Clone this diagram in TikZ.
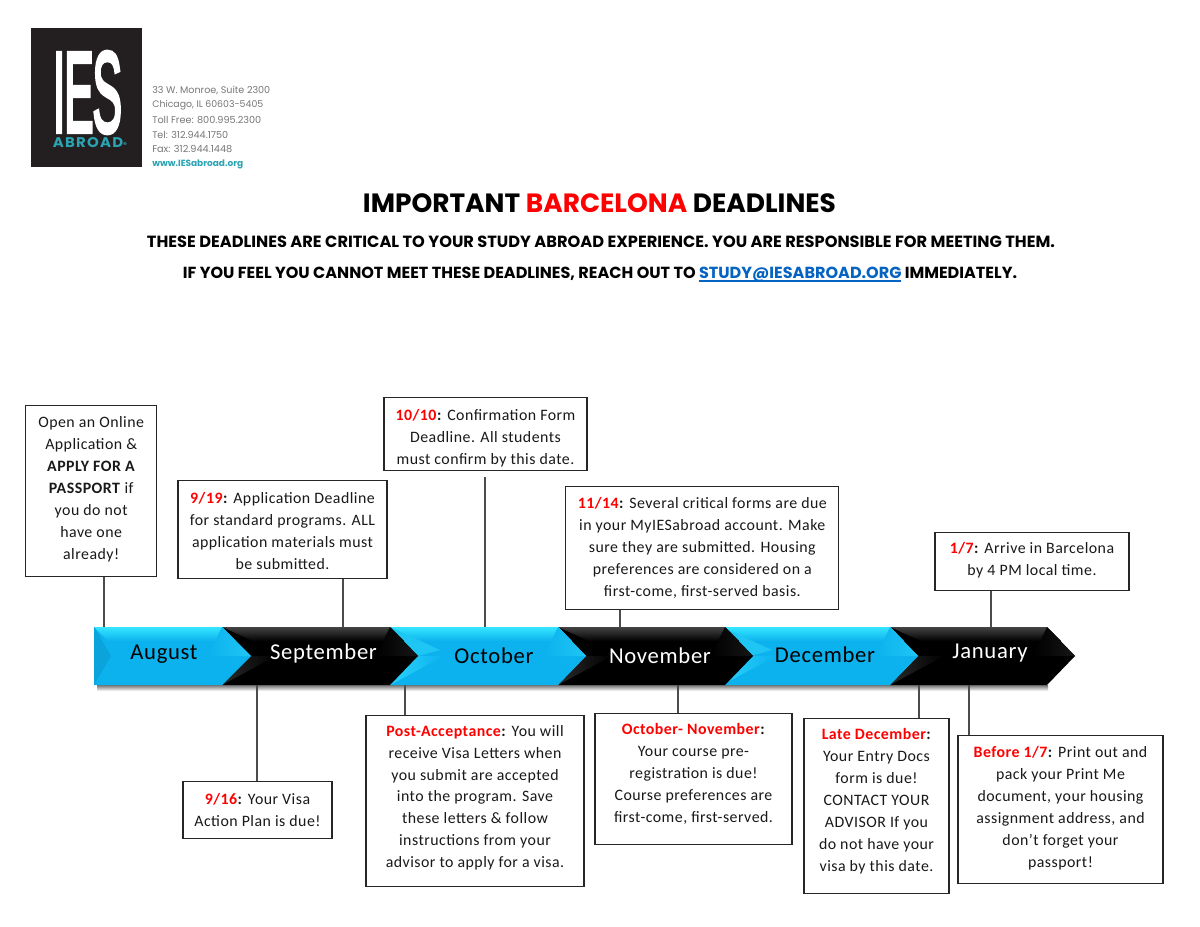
\documentclass[tikz,border=0pt]{standalone}
\usepackage{graphicx}
\usepackage{fontspec}
\setmainfont{Carlito}
\newfontfamily\boxfont[LetterSpace=3,WordSpace=0.9]{Carlito}
\newfontfamily\monthfont[LetterSpace=3]{Carlito}
\newfontfamily\headfont{Poppins}
\newfontfamily\logofont[FakeBold=4,LetterSpace=-3]{Liberation Sans}
\newfontfamily\abroadfont[LetterSpace=8]{Poppins}
\newfontfamily\addrfont{Poppins}
\usetikzlibrary{calc}
\newdimen\pxu \pxu=.75pt
\newsavebox{\ulbox}
\definecolor{cyanbase}{HTML}{0CB2EE}
\definecolor{cyanlight}{HTML}{35E6FF}
\definecolor{cyanupper}{HTML}{1FC6F4}
\definecolor{cyanlower}{HTML}{2AD2FB}
\definecolor{cyanedge}{HTML}{0BA3DC}
\definecolor{blacktop}{HTML}{444444}
\definecolor{blackmid}{HTML}{161616}
\definecolor{blacklower}{HTML}{2A2A2A}
\definecolor{linkblue}{HTML}{0563C1}
\definecolor{teal}{HTML}{2AA3B2}
\definecolor{logoblack}{HTML}{231F20}
\definecolor{addr}{HTML}{777777}
\definecolor{alarm}{HTML}{FF0000}
\newcommand{\dl}[1]{\textcolor{alarm}{\textbf{#1}}\textbf{:}}
\newcommand{\linkul}[1]{\sbox{\ulbox}{#1}\rlap{\smash{\rule[-.22em]{\wd\ulbox}{.13em}}}\usebox{\ulbox}}
\newcommand{\tb}[4]{\parbox[c][#2\pxu][t]{#1\pxu}{\vspace*{#3\pxu}\centering\boxfont\fontsize{11.9}{16.4}\selectfont\strut #4}}
% x0, x1, base, top, upper-notch, lower-notch, tip
\newcommand{\chev}[7]{%
  \fill[#3] (#1,627) -- (#2,627) -- (#2+28,656) -- (#2,685) -- (#1,685) -- (#1+28,656) -- cycle;
  \shade[top color=#4,bottom color=#3] (#1,627) -- (#2,627) -- (#2+14,641) -- (#1+14,641) -- cycle;
  \fill[#5] (#1,627) -- (#1+28,656) -- (#1+50,650) -- cycle;
  \shade[left color=#6,right color=#3] (#1,685) -- (#1+28,656) -- (#1+54,656) -- cycle;
  \shade[left color=#3,right color=#7] (#2,627) -- (#2+28,656) -- (#2-14,656) -- cycle;
}
\tikzset{
  tbox/.style={draw=black!85,line width=.85pt,fill=white,inner sep=0pt,anchor=north,text=black!90},
  conn/.style={draw=black!70,line width=.9pt},
  month/.style={font=\monthfont\fontsize{17}{20}\selectfont,inner sep=0pt},
  addrline/.style={anchor=west,inner sep=0pt,text=addr},
  head/.style={inner sep=0pt,text=black}
}
\begin{document}
\begin{tikzpicture}[x=.75pt,y=-.75pt]
\useasboundingbox (0,0) rectangle (1200,927);
\fill[white] (0,0) rectangle (1200,927);
% logo
\node[fill=logoblack,minimum width=111\pxu,minimum height=139\pxu,inner sep=0pt,anchor=north west] (logo) at (31,28) {};
\node[inner sep=0pt,text=white] (ies) at (87.5,92.5) {\resizebox{69\pxu}{80\pxu}{\logofont IES}};
\node[inner sep=0pt,text=teal] (abroad) at (90,143) {\resizebox{74\pxu}{10\pxu}{\abroadfont\bfseries ABROAD\raisebox{0pt}{\tiny ®}}};
\node[addrline] (a1) at (152,90.5) {\resizebox{118\pxu}{!}{\addrfont 33 W. Monroe, Suite 2300}};
\node[addrline] (a2) at (152,105.5) {\resizebox{111\pxu}{!}{\addrfont Chicago, IL 60603-5405}};
\node[addrline] (a3) at (152,120) {\resizebox{109\pxu}{!}{\addrfont Toll Free: 800.995.2300}};
\node[addrline] (a4) at (152,134.5) {\resizebox{76\pxu}{!}{\addrfont Tel: 312.944.1750}};
\node[addrline] (a5) at (152,149.5) {\resizebox{80\pxu}{!}{\addrfont Fax: 312.944.1448}};
\node[addrline,text=teal] (a6) at (152,164.5) {\resizebox{91\pxu}{!}{\addrfont\bfseries www.IESabroad.org}};
% headings
\node[head] (title) at (599.5,203) {\resizebox{473\pxu}{!}{\headfont\bfseries IMPORTANT \textcolor{alarm}{BARCELONA} DEADLINES}};
\node[head] (sub1) at (601,241.5) {\resizebox{908\pxu}{!}{\headfont\bfseries THESE DEADLINES ARE CRITICAL TO YOUR STUDY ABROAD EXPERIENCE. YOU ARE RESPONSIBLE FOR MEETING THEM.}};
\node[head] (sub2) at (600,275) {\resizebox{834\pxu}{!}{\headfont\bfseries IF YOU FEEL YOU CANNOT MEET THESE DEADLINES, REACH OUT TO \textcolor{linkblue}{\linkul{STUDY@IESABROAD.ORG}} IMMEDIATELY.}};
% anchor points on the timeline
\coordinate (c1) at (104,627); \coordinate (c2) at (343,627); \coordinate (c3) at (485,627);
\coordinate (c4) at (620,627); \coordinate (c5) at (991,627);
\coordinate (c6) at (257,685); \coordinate (c7) at (405,685); \coordinate (c8) at (678,685);
\coordinate (c9) at (919,685); \coordinate (c10) at (969,685);
% soft shadow under the bar
\shade[top color=black!55,bottom color=white] (97,685) rectangle (1048,691);
% boxes
\node[tbox] (b1) at (91.2,405) {\tb{131}{171}{7}{Open an Online\\Application \&\\\textbf{APPLY FOR A}\\\textbf{PASSPORT} if\\you do not\\have one\\already!}};
\node[tbox] (b2) at (282.5,480) {\tb{209}{98}{8}{\dl{9/19} Application Deadline\\for standard programs. ALL\\application materials must\\be submitted.}};
\node[tbox] (b3) at (485.5,397) {\tb{203}{73}{8}{\dl{10/10} Confirmation Form\\Deadline. All students\\must confirm by this date.}};
\node[tbox] (b4) at (702.3,486) {\tb{273}{123}{7}{\dl{11/14} Several critical forms are due\\in your MyIESabroad account. Make\\sure they are submitted. Housing\\preferences are considered on a\\first-come, first-served basis.}};
\node[tbox] (b5) at (1032,532) {\tb{194}{58}{6}{\dl{1/7} Arrive in Barcelona\\by 4 PM local time.}};
\node[tbox] (b6) at (257.5,781) {\tb{149}{57}{8}{\dl{9/16} Your Visa\\Action Plan is due!}};
\node[tbox] (b7) at (475,714.5) {\tb{218}{171}{6}{\dl{Post-Acceptance} You will\\receive Visa Letters when\\you submit are accepted\\into the program. Save\\these letters \& follow\\instructions from your\\advisor to apply for a visa.}};
\node[tbox] (b8) at (693.5,713) {\tb{197}{131}{6}{\dl{October- November}\\Your course pre-\\registration is due!\\Course preferences are\\first-come, first-served.}};
\node[tbox] (b9) at (876.5,718) {\tb{145}{175}{6}{\dl{Late December}\\Your Entry Docs\\form is due!\\CONTACT YOUR\\ADVISOR If you\\do not have your\\visa by this date.}};
\node[tbox] (b10) at (1060.5,735) {\tb{205}{148}{7}{\dl{Before 1/7} Print out and\\pack your Print Me\\document, your housing\\assignment address, and\\don’t forget your\\passport!}};
% connectors
\draw[conn] (b1.south -| c1) -- (c1);
\draw[conn] (b2.south -| c2) -- (c2);
\draw[conn,shorten <=4.5pt] (b3.south -| c3) -- (c3);
\draw[conn] (b4.south -| c4) -- (c4);
\draw[conn] (b5.south -| c5) -- (c5);
\draw[conn] (c6) -- (b6.north -| c6);
\draw[conn] (c7) -- (b7.north -| c7);
\draw[conn] (c8) -- (b8.north -| c8);
\draw[conn] (c9) -- (b9.north -| c9);
\draw[conn] (c10) -- (b10.north -| c10);
% timeline, last to first so each tip lies on the next
\chev{890}{1047}{black}{blacktop}{black}{blacklower}{blackmid}
\chev{722}{890}{cyanbase}{cyanlight}{cyanupper}{cyanlower}{cyanupper}
\chev{558}{725}{black}{blacktop}{black}{blacklower}{blackmid}
\chev{390}{558}{cyanbase}{cyanlight}{cyanupper}{cyanlower}{cyanupper}
\chev{222}{390}{black}{blacktop}{black}{blacklower}{blackmid}
\fill[cyanbase] (94,627) -- (222,627) -- (251,656) -- (222,685) -- (94,685) -- cycle;
\shade[top color=cyanlight,bottom color=cyanbase] (94,627) -- (222,627) -- (236,641) -- (108,641) -- cycle;
\shade[left color=cyanbase,right color=cyanupper] (222,627) -- (251,656) -- (208,656) -- cycle;
\fill[cyanedge] (94,627) -- (111,656) -- (94,685) -- cycle;
% month labels
\node[month,text=black] (m1) at (164,654) {August};
\node[month,text=white] (m2) at (323.5,653) {September};
\node[month,text=black] (m3) at (494,656) {October};
\node[month,text=white] (m4) at (660,656) {November};
\node[month,text=black] (m5) at (825,655) {December};
\node[month,text=white] (m6) at (990,653) {January};
\end{tikzpicture}
\end{document}
